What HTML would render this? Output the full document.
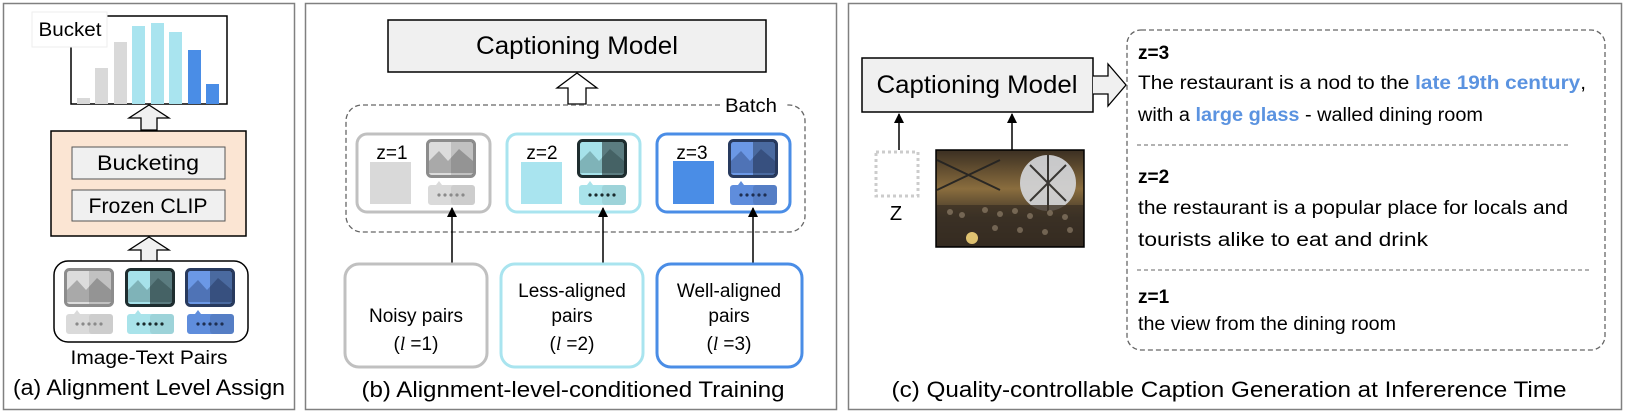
<!DOCTYPE html>
<html><head><meta charset="utf-8"><style>
html,body{margin:0;padding:0;background:#fff;}
svg{display:block;font-family:"Liberation Sans",sans-serif;}
</style></head><body>
<svg width="1627" height="415" viewBox="0 0 1627 415" xmlns="http://www.w3.org/2000/svg">
<defs>
<marker id="ah" markerWidth="10" markerHeight="10" refX="9" refY="5" orient="auto" markerUnits="userSpaceOnUse">
<path d="M0,0 L10,5 L0,10 z" fill="#000"/></marker>
<symbol id="icG" viewBox="0 0 50 66" overflow="visible">
<rect x="1.5" y="1.5" width="47" height="36" rx="4" fill="#dcdcdc" stroke="#8c8c8c" stroke-width="3"/>
<polygon points="3,34 3,22 13,12 22,22 33,10 47,22 47,34" fill="#a9a9a9"/>
<rect x="25" y="3" width="22" height="33" fill="#000" opacity="0.12"/>
<path d="M2,46 h8 l3,-4 l3,4 h30 a3,3 0 0 1 3,3 v14 a3,3 0 0 1 -3,3 h-41 a3,3 0 0 1 -3,-3 v-14 a3,3 0 0 1 3,-3z" fill="#dadada"/>
<rect x="25" y="46" width="24" height="20" rx="3" fill="#000" opacity="0.06"/>
<g fill="#8a8a8a"><circle cx="13" cy="56" r="1.6"/><circle cx="19" cy="56" r="1.6"/><circle cx="25" cy="56" r="1.6"/><circle cx="31" cy="56" r="1.6"/><circle cx="37" cy="56" r="1.6"/></g>
</symbol>
<symbol id="icC" viewBox="0 0 50 66" overflow="visible">
<rect x="1.5" y="1.5" width="47" height="36" rx="4" fill="#a6e2ea" stroke="#1e2d2f" stroke-width="3"/>
<polygon points="3,34 3,22 13,12 22,22 33,10 47,22 47,34" fill="#7fb3b8"/>
<rect x="25" y="3" width="22" height="33" fill="#000" opacity="0.45"/>
<path d="M2,46 h8 l3,-4 l3,4 h30 a3,3 0 0 1 3,3 v14 a3,3 0 0 1 -3,3 h-41 a3,3 0 0 1 -3,-3 v-14 a3,3 0 0 1 3,-3z" fill="#a9e3ea"/>
<rect x="25" y="46" width="24" height="20" rx="3" fill="#000" opacity="0.07"/>
<g fill="#1a2a2c"><circle cx="13" cy="56" r="1.6"/><circle cx="19" cy="56" r="1.6"/><circle cx="25" cy="56" r="1.6"/><circle cx="31" cy="56" r="1.6"/><circle cx="37" cy="56" r="1.6"/></g>
</symbol>
<symbol id="icB" viewBox="0 0 50 66" overflow="visible">
<rect x="1.5" y="1.5" width="47" height="36" rx="4" fill="#6b98e6" stroke="#283a5e" stroke-width="3"/>
<polygon points="3,34 3,22 13,12 22,22 33,10 47,22 47,34" fill="#4f73b6"/>
<rect x="25" y="3" width="22" height="33" fill="#000" opacity="0.3"/>
<path d="M2,46 h8 l3,-4 l3,4 h30 a3,3 0 0 1 3,3 v14 a3,3 0 0 1 -3,3 h-41 a3,3 0 0 1 -3,-3 v-14 a3,3 0 0 1 3,-3z" fill="#5f8ddc"/>
<rect x="25" y="46" width="24" height="20" rx="3" fill="#000" opacity="0.1"/>
<g fill="#1e2f52"><circle cx="13" cy="56" r="1.6"/><circle cx="19" cy="56" r="1.6"/><circle cx="25" cy="56" r="1.6"/><circle cx="31" cy="56" r="1.6"/><circle cx="37" cy="56" r="1.6"/></g>
</symbol>
<linearGradient id="photo" x1="0" y1="0" x2="0" y2="1">
<stop offset="0" stop-color="#3b2f22"/><stop offset="0.4" stop-color="#8a6d3e"/><stop offset="0.7" stop-color="#3d3328"/><stop offset="1" stop-color="#2a2118"/></linearGradient>
</defs>

<rect x="3.5" y="3.5" width="291" height="406" fill="none" stroke="#808080" stroke-width="1.5"/>
<rect x="305.5" y="3.5" width="531" height="406" fill="none" stroke="#808080" stroke-width="1.5"/>
<rect x="848.5" y="3.5" width="773" height="406" fill="none" stroke="#808080" stroke-width="1.5"/>

<!-- ===== Panel A ===== -->
<rect x="71" y="16" width="156" height="88" fill="#fff" stroke="#000" stroke-width="1.5"/>
<g>
<rect x="77" y="98" width="13" height="6" fill="#d9d9d9"/>
<rect x="95" y="68" width="13" height="36" fill="#d9d9d9"/>
<rect x="114" y="42" width="13" height="62" fill="#d9d9d9"/>
<rect x="132" y="26" width="13" height="78" fill="#a9e4ef"/>
<rect x="151" y="23" width="13" height="81" fill="#a9e4ef"/>
<rect x="169" y="32" width="13" height="72" fill="#a9e4ef"/>
<rect x="188" y="50" width="13" height="54" fill="#4a8de6"/>
<rect x="206" y="84" width="13" height="20" fill="#4a8de6"/>
</g>
<rect x="32" y="12" width="75" height="35" fill="#fff" stroke="#eee" stroke-width="1"/>
<text x="70" y="36" font-size="19" text-anchor="middle" textLength="63" lengthAdjust="spacingAndGlyphs">Bucket</text>
<path d="M141,130 V118 H129 L149,105 L169,118 H157 V130 Z" fill="#f0f0f0" stroke="#000" stroke-width="1.3"/>
<rect x="51" y="131" width="195" height="105" fill="#fbe5d3" stroke="#000" stroke-width="1.5"/>
<rect x="72" y="147" width="153" height="32" fill="#f0f0f0" stroke="#555" stroke-width="1"/>
<text x="148" y="170" font-size="21" text-anchor="middle" textLength="102" lengthAdjust="spacingAndGlyphs">Bucketing</text>
<rect x="72" y="190" width="153" height="31" fill="#f0f0f0" stroke="#555" stroke-width="1"/>
<text x="148" y="213" font-size="21" text-anchor="middle" textLength="119" lengthAdjust="spacingAndGlyphs">Frozen CLIP</text>
<path d="M141,262 V250 H129 L149,237 L169,250 H157 V262 Z" fill="#f0f0f0" stroke="#000" stroke-width="1.3"/>
<rect x="54" y="261" width="194" height="81" rx="14" fill="#fff" stroke="#000" stroke-width="1.5"/>
<use href="#icG" x="64" y="268" width="50" height="66"/>
<use href="#icC" x="125" y="268" width="50" height="66"/>
<use href="#icB" x="185" y="268" width="50" height="66"/>
<text x="149" y="364" font-size="19" text-anchor="middle" textLength="157" lengthAdjust="spacingAndGlyphs">Image-Text Pairs</text>
<text x="149" y="395" font-size="22" text-anchor="middle" textLength="272" lengthAdjust="spacingAndGlyphs">(a) Alignment Level Assign</text>

<!-- ===== Panel B ===== -->
<rect x="388" y="20" width="378" height="52" fill="#f0f0f0" stroke="#000" stroke-width="1.5"/>
<text x="577" y="54" font-size="25" text-anchor="middle" textLength="202" lengthAdjust="spacingAndGlyphs">Captioning Model</text>
<path d="M568,104 V88 H557 L577,73 L597,88 H586 V104 Z" fill="#fff" stroke="#000" stroke-width="1.3"/>
<path d="M720,105 H362 a16,16 0 0 0 -16,16 V216 a16,16 0 0 0 16,16 H789 a16,16 0 0 0 16,-16 V121 a16,16 0 0 0 -16,-16 H785" fill="none" stroke="#666" stroke-width="1.3" stroke-dasharray="5,3"/>
<text x="751" y="112" font-size="19" text-anchor="middle" textLength="52" lengthAdjust="spacingAndGlyphs">Batch</text>
<rect x="357" y="134" width="133" height="78" rx="10" fill="#fff" stroke="#c0c0c0" stroke-width="3"/>
<text x="392" y="159" font-size="19" text-anchor="middle">z=1</text>
<rect x="370" y="162" width="41" height="42" fill="#d9d9d9"/>
<use href="#icG" x="426" y="139" width="50" height="66"/>
<rect x="507" y="134" width="133" height="78" rx="10" fill="#fff" stroke="#a9e4ef" stroke-width="3"/>
<text x="542" y="159" font-size="19" text-anchor="middle">z=2</text>
<rect x="521" y="162" width="41" height="42" fill="#a9e4ef"/>
<use href="#icC" x="577" y="139" width="50" height="66"/>
<rect x="657" y="134" width="133" height="78" rx="10" fill="#fff" stroke="#4a8de6" stroke-width="3"/>
<text x="692" y="159" font-size="19" text-anchor="middle">z=3</text>
<rect x="673" y="161" width="41" height="43" fill="#4a8de6"/>
<use href="#icB" x="728" y="139" width="50" height="66"/>
<line x1="452" y1="263" x2="452" y2="208" stroke="#000" stroke-width="1.5" marker-end="url(#ah)"/>
<line x1="603" y1="263" x2="603" y2="208" stroke="#000" stroke-width="1.5" marker-end="url(#ah)"/>
<line x1="753" y1="263" x2="753" y2="208" stroke="#000" stroke-width="1.5" marker-end="url(#ah)"/>
<rect x="345" y="264" width="142" height="103" rx="14" fill="#fff" stroke="#c0c0c0" stroke-width="3"/>
<text x="416" y="322" font-size="19" text-anchor="middle">Noisy pairs</text>
<text x="416" y="350" font-size="19" text-anchor="middle">(<tspan font-family="Liberation Serif" font-style="italic">l</tspan> =1)</text>
<rect x="501" y="264" width="142" height="103" rx="14" fill="#fff" stroke="#a9e4ef" stroke-width="3"/>
<text x="572" y="297" font-size="19" text-anchor="middle">Less-aligned</text>
<text x="572" y="322" font-size="19" text-anchor="middle">pairs</text>
<text x="572" y="350" font-size="19" text-anchor="middle">(<tspan font-family="Liberation Serif" font-style="italic">l</tspan> =2)</text>
<rect x="657" y="264" width="145" height="103" rx="14" fill="#fff" stroke="#4a8de6" stroke-width="3"/>
<text x="729" y="297" font-size="19" text-anchor="middle">Well-aligned</text>
<text x="729" y="322" font-size="19" text-anchor="middle">pairs</text>
<text x="729" y="350" font-size="19" text-anchor="middle">(<tspan font-family="Liberation Serif" font-style="italic">l</tspan> =3)</text>
<text x="573" y="397" font-size="22" text-anchor="middle" textLength="423" lengthAdjust="spacingAndGlyphs">(b) Alignment-level-conditioned Training</text>

<!-- ===== Panel C ===== -->
<rect x="862" y="58" width="231" height="54" fill="#f0f0f0" stroke="#000" stroke-width="1.5"/>
<text x="977" y="93" font-size="25" text-anchor="middle" textLength="201" lengthAdjust="spacingAndGlyphs">Captioning Model</text>
<path d="M1093,76 H1108 V64 L1126,85 L1108,106 V94 H1093" fill="#f0f0f0" stroke="#000" stroke-width="1.3"/>
<line x1="899" y1="150" x2="899" y2="114" stroke="#000" stroke-width="1.5" marker-end="url(#ah)"/>
<line x1="1012" y1="150" x2="1012" y2="114" stroke="#000" stroke-width="1.5" marker-end="url(#ah)"/>
<rect x="876" y="152" width="42" height="44" fill="none" stroke="#ccc" stroke-width="3" stroke-dasharray="3,3"/>
<text x="896" y="220" font-size="20" text-anchor="middle">Z</text>
<rect x="936" y="150" width="148" height="97" fill="url(#photo)" stroke="#000" stroke-width="1.5"/>
<g opacity="0.9">
<circle cx="1048" cy="183" r="28" fill="#d6d8dc"/>
<path d="M1030,165 L1066,201 M1066,165 L1030,201 M1048,155 V211" stroke="#333" stroke-width="2"/>
<rect x="937" y="205" width="146" height="41" fill="#3a3024" opacity="0.8"/>
<g fill="#8a7a66" opacity="0.8">
<circle cx="950" cy="212" r="3"/><circle cx="962" cy="215" r="3"/><circle cx="985" cy="210" r="3"/><circle cx="1000" cy="214" r="3"/><circle cx="1015" cy="211" r="3"/><circle cx="1030" cy="216" r="3"/><circle cx="1050" cy="213" r="3"/><circle cx="1065" cy="217" r="3"/><circle cx="995" cy="228" r="3"/><circle cx="1020" cy="230" r="3"/><circle cx="1045" cy="232" r="3"/><circle cx="1070" cy="230" r="3"/>
</g>
<circle cx="972" cy="238" r="6" fill="#f3d37a"/>
<path d="M937,160 L1000,190 M1000,160 L937,190" stroke="#222" stroke-width="2"/>
</g>
<rect x="1127" y="30" width="478" height="320" rx="14" fill="none" stroke="#666" stroke-width="1.3" stroke-dasharray="5,3"/>
<g font-size="19">
<text x="1138" y="59" font-weight="bold">z=3</text>
<text x="1138" y="89" textLength="448" lengthAdjust="spacingAndGlyphs">The restaurant is a nod to the <tspan fill="#5b93e0" font-weight="bold">late 19th century</tspan>,</text>
<text x="1138" y="121" textLength="345" lengthAdjust="spacingAndGlyphs">with a <tspan fill="#5b93e0" font-weight="bold">large glass</tspan> - walled dining room</text>
<line x1="1137" y1="145" x2="1570" y2="145" stroke="#666" stroke-dasharray="4,3"/>
<text x="1138" y="183" font-weight="bold">z=2</text>
<text x="1138" y="214" textLength="430" lengthAdjust="spacingAndGlyphs">the restaurant is a popular place for locals and</text>
<text x="1138" y="246" textLength="290" lengthAdjust="spacingAndGlyphs">tourists alike to eat and drink</text>
<line x1="1137" y1="270" x2="1590" y2="270" stroke="#666" stroke-dasharray="4,3"/>
<text x="1138" y="303" font-weight="bold">z=1</text>
<text x="1138" y="330" textLength="258" lengthAdjust="spacingAndGlyphs">the view from the dining room</text>
</g>
<text x="1229" y="397" font-size="22" text-anchor="middle" textLength="675" lengthAdjust="spacingAndGlyphs">(c) Quality-controllable Caption Generation at Infererence Time</text>
</svg>
</body></html>
